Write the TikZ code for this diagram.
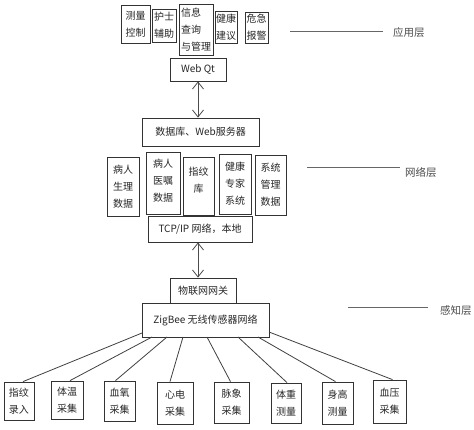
\documentclass[tikz,border=0pt]{standalone}
\usepackage{fontspec}
\setmainfont{Noto Sans CJK SC}
\usetikzlibrary{arrows.meta,calc}
\begin{document}
\begin{tikzpicture}[x=1pt,y=-1pt,
  box/.style={draw=black!80,line width=0.8pt,inner sep=1pt,align=center,
    font=\fontsize{10}{17}\selectfont,text=black!85},
  lyr/.style={draw=black!60,line width=1pt},
  lyrtext/.style={font=\fontsize{10.5}{12}\selectfont,text=black!70,inner sep=0pt},
  conn/.style={draw=black!75,line width=0.8pt},
  dbl/.style={draw=black!70,line width=0.8pt,{Straight Barb[length=7pt,width=11pt]}-{Straight Barb[length=7pt,width=11pt]}}]
\useasboundingbox (0,0) rectangle (474,430);
% application layer
\node[box,minimum width=29pt,minimum height=38pt] (a1) at (135.5,24) {测量\\控制};
\node[box,minimum width=24pt,minimum height=33pt] (a2) at (164,25.5) {护士\\辅助};
\node[box,minimum width=34pt,minimum height=51pt,align=left] (a3) at (196,29.5) {信息\\查询\\与管理};
\node[box,minimum width=22pt,minimum height=32pt] (a4) at (226,27) {健康\\建议};
\node[box,minimum width=23pt,minimum height=31pt] (a5) at (256.5,27.5) {危急\\报警};
\node[box,minimum width=56pt,minimum height=23pt] (web) at (198,69.5) {Web Qt};
% network layer
\node[box,minimum width=117pt,minimum height=28pt] (db) at (200.5,132) {数据库、Web服务器};
\node[box,minimum width=32pt,minimum height=59pt] (n1) at (123,186.5) {病人\\生理\\数据};
\node[box,minimum width=34pt,minimum height=62pt,text depth=6pt] (n2) at (163,183) {病人\\医嘱\\数据};
\node[box,minimum width=31pt,minimum height=58pt,text depth=12pt] (n3) at (198.5,186) {指纹\\库};
\node[box,minimum width=32pt,minimum height=60pt] (n4) at (235,184) {健康\\专家\\系统};
\node[box,minimum width=31pt,minimum height=60pt] (n5) at (270.5,185) {系统\\管理\\数据};
\node[box,minimum width=104pt,minimum height=26pt] (tcp) at (200,229) {TCP/IP 网络，本地};
% perception layer
\node[box,minimum width=66pt,minimum height=25pt] (gw) at (203,290.5) {物联网网关};
\node[box,minimum width=127pt,minimum height=34pt] (zig) at (205.5,320) {ZigBee 无线传感器网络};
\node[box,minimum width=30pt,minimum height=38pt] (b1) at (19,401) {指纹\\录入};
\node[box,minimum width=32pt,minimum height=38pt] (b2) at (67,400) {体温\\采集};
\node[box,minimum width=31pt,minimum height=40pt] (b3) at (119.5,401) {血氧\\采集};
\node[box,minimum width=36pt,minimum height=42pt] (b4) at (175,403) {心电\\采集};
\node[box,minimum width=35pt,minimum height=41pt] (b5) at (231.5,402.5) {脉象\\采集};
\node[box,minimum width=30pt,minimum height=40pt] (b6) at (286,403) {体重\\测量};
\node[box,minimum width=31pt,minimum height=42pt] (b7) at (337.5,403) {身高\\测量};
\node[box,minimum width=33pt,minimum height=43pt] (b8) at (389.5,401.5) {血压\\采集};
% double arrows
\draw[dbl] (web.south) -- (web.south |- db.north);
\draw[dbl] (tcp.south -| web.south) -- (gw.north -| web.south);
% connectors
\coordinate (z1) at (142,333);
\coordinate (z2) at (152,337);
\coordinate (z3) at (167,337);
\coordinate (z4) at (183,337);
\coordinate (z5) at (207,337);
\coordinate (z6) at (238,337);
\coordinate (z7) at (258,337);
\coordinate (z8) at (269,332);
\draw[conn] (z1) -- ($(b1.north)+(4,0)$);
\draw[conn] (z2) -- ($(b2.north)+(3,0)$);
\draw[conn] (z3) -- ($(b3.north)+(-4,0)$);
\draw[conn] (z4) -- ($(b4.north)+(-5,0)$);
\draw[conn] (z5) -- ($(b5.north)+(-1,0)$);
\draw[conn] (z6) -- ($(b6.north)+(1,0)$);
\draw[conn] (z7) -- ($(b7.north)+(-2,0)$);
\draw[conn] (z8) -- ($(b8.north)+(3,0)$);
% layer labels
\coordinate (l1a) at (290,32); \coordinate (l1b) at (383,32);
\node[lyrtext,anchor=west] (t1) at (393,33) {应用层};
\draw[lyr] (l1a) -- (l1b);
\coordinate (l2a) at (307,168); \coordinate (l2b) at (400,168);
\node[lyrtext,anchor=west] (t2) at (405,172) {网络层};
\draw[lyr] (l2a) -- (l2b);
\coordinate (l3a) at (348,308); \coordinate (l3b) at (428,308);
\node[lyrtext,anchor=west] (t3) at (440,311) {感知层};
\draw[lyr] (l3a) -- (l3b);
\end{tikzpicture}
\end{document}
